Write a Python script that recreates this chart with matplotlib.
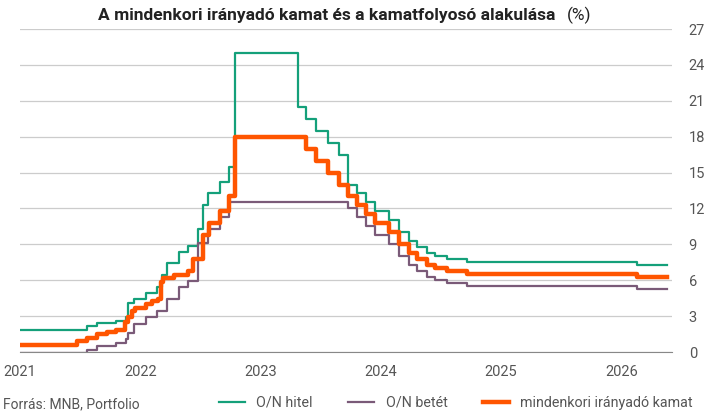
import matplotlib
matplotlib.use("Agg")
import matplotlib.pyplot as plt

END = 2026.38
base_t = [2021.0,2021.47,2021.56,2021.64,2021.72,2021.8,2021.87,2021.9,2021.93,2021.96,2022.05,2022.1,2022.15,2022.17,2022.19,2022.28,2022.4,2022.44,2022.52,2022.57,2022.66,2022.74,2022.785,
          2023.38,2023.46,2023.56,2023.65,2023.73,2023.8,2023.88,2023.95,2024.07,2024.15,2024.23,2024.3,2024.38,2024.45,2024.55,2024.72,2026.13]
base_v = [0.6,0.9,1.2,1.5,1.65,1.8,2.5,2.9,3.4,3.7,4.0,4.25,4.4,5.85,6.15,6.45,6.75,7.75,9.75,10.75,11.75,13.0,18.0,
          17,16,15,14,13,12.25,11.5,10.75,10.0,9.0,8.25,7.75,7.25,7.0,6.75,6.5,6.25]
hitel_t = [2021.0,2021.56,2021.64,2021.8,2021.88,2021.9,2021.95,2022.05,2022.14,2022.18,2022.22,2022.32,2022.4,2022.48,2022.52,2022.56,2022.66,2022.74,2022.785,
           2023.31,2023.38,2023.46,2023.56,2023.65,2023.73,2023.8,2023.88,2023.95,2024.07,2024.15,2024.23,2024.3,2024.38,2024.45,2024.55,2024.72,2026.13]
hitel_v = [1.85,2.2,2.45,2.55,2.9,4.1,4.4,4.9,5.4,6.4,7.4,8.4,8.9,10.25,12.25,13.25,14.25,15.5,25.0,
           20.5,19.5,18.5,17.5,16.5,14.0,13.25,12.5,11.75,11.0,10.0,9.25,8.75,8.25,8.0,7.75,7.5,7.25]
betet_t = [2021.0,2021.56,2021.64,2021.8,2021.88,2021.9,2021.95,2022.05,2022.14,2022.22,2022.32,2022.4,2022.48,2022.56,2022.66,2022.74,
           2023.73,2023.8,2023.88,2023.95,2024.07,2024.15,2024.23,2024.3,2024.38,2024.45,2024.55,2024.72,2026.13]
betet_v = [-0.05,0.15,0.5,0.75,1.1,1.6,2.3,2.9,3.4,4.4,5.4,5.9,9.1,10.25,11.25,12.5,
           12.0,11.25,10.5,9.75,9.0,8.0,7.25,6.75,6.25,6.0,5.75,5.5,5.25]

plt.rcParams['font.family'] = ['Roboto', 'DejaVu Sans']
fig = plt.figure(figsize=(7.18, 4.15), dpi=100)
ax = fig.add_axes([20/718, 1-352/415, 652/718, 323/415])

def st(ts, vs):
    return ts + [END], vs + [vs[-1]]

c_h, c_b, c_o = '#14a07a', '#7a5a78', '#ff5500'
t, v = st(hitel_t, hitel_v); ax.step(t, v, where='post', color=c_h, lw=1.6, label='O/N hitel')
t, v = st(betet_t, betet_v); ax.step(t, v, where='post', color=c_b, lw=1.6, label='O/N betét')
t, v = st(base_t, base_v); ax.step(t, v, where='post', color=c_o, lw=3.2, label='mindenkori irányadó kamat')

ax.set_xlim(2021.0, 2026.42)
ax.set_ylim(0, 27)
ax.set_yticks(range(0, 28, 3))
ax.set_xticks(range(2021, 2027))
ax.yaxis.tick_right()
ax.tick_params(axis='both', length=0, labelsize=10.5, colors='#555555')
ax.tick_params(axis='y', pad=12)
ax.tick_params(axis='x', pad=9)
ax.grid(axis='y', color='#cccccc', lw=0.9)
ax.set_axisbelow(True)
for s in ['top', 'left', 'right']:
    ax.spines[s].set_visible(False)
ax.spines['bottom'].set_color('#888888')

fig.text(0.455, 0.963, 'A mindenkori irányadó kamat és a kamatfolyosó alakulása', ha='center', va='center',
         fontsize=12.5, fontweight='bold', color='#222222')
fig.text(0.79, 0.963, '(%)', ha='left', va='center', fontsize=12.5, color='#222222')
fig.text(0.004, 0.025, 'Forrás: MNB, Portfolio', fontsize=10, color='#555555', va='center')
fig.legend(loc='center', bbox_to_anchor=(0.635, 0.03), ncol=3, frameon=False, fontsize=10.3,
           handlelength=1.8, columnspacing=2.5, labelcolor='#555555')
fig.savefig('out.png', dpi=100)
